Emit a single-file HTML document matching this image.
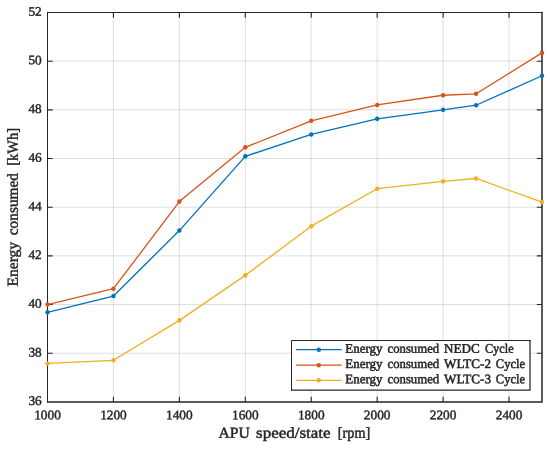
<!DOCTYPE html>
<html><head><meta charset="utf-8"><title>Energy consumed vs APU speed</title>
<style>html,body{margin:0;padding:0;background:#fff;}svg{display:block;}text{font-family:"Liberation Serif", serif;fill:#262626;stroke:#262626;stroke-width:0.45px;}</style></head><body>
<svg width="550" height="450" viewBox="0 0 550 450">
<rect x="0" y="0" width="550" height="450" fill="#ffffff"/>
<path d="M113.43 12.50V401.90M179.37 12.50V401.90M245.30 12.50V401.90M311.23 12.50V401.90M377.17 12.50V401.90M443.10 12.50V401.90M509.03 12.50V401.90" stroke="#262626" stroke-opacity="0.15" stroke-width="1" fill="none"/>
<path d="M47.50 353.22H542.00M47.50 304.55H542.00M47.50 255.88H542.00M47.50 207.20H542.00M47.50 158.52H542.00M47.50 109.85H542.00M47.50 61.18H542.00" stroke="#262626" stroke-opacity="0.15" stroke-width="1" fill="none"/>
<path d="M113.43 401.90v-5.20M113.43 12.50v5.20M179.37 401.90v-5.20M179.37 12.50v5.20M245.30 401.90v-5.20M245.30 12.50v5.20M311.23 401.90v-5.20M311.23 12.50v5.20M377.17 401.90v-5.20M377.17 12.50v5.20M443.10 401.90v-5.20M443.10 12.50v5.20M509.03 401.90v-5.20M509.03 12.50v5.20M47.50 353.22h5.20M542.00 353.22h-5.20M47.50 304.55h5.20M542.00 304.55h-5.20M47.50 255.88h5.20M542.00 255.88h-5.20M47.50 207.20h5.20M542.00 207.20h-5.20M47.50 158.52h5.20M542.00 158.52h-5.20M47.50 109.85h5.20M542.00 109.85h-5.20M47.50 61.18h5.20M542.00 61.18h-5.20" stroke="#262626" stroke-width="1.1" fill="none"/>
<path d="M47.50 402.60V12.00M47.00 12.50H542.70" stroke="#262626" stroke-width="1" fill="none"/>
<path d="M542.00 12.00V402.65M47.00 401.90H542.75" stroke="#262626" stroke-width="1.5" fill="none"/>
<polyline points="47.50,312.34 113.43,296.03 179.37,230.56 245.30,156.33 311.23,134.43 377.17,118.85 443.10,109.85 476.07,105.23 542.00,75.78" fill="none" stroke="#0072BD" stroke-width="1.3" stroke-linejoin="round"/>
<ellipse cx="47.50" cy="312.34" rx="2.2" ry="2.3" fill="#0072BD"/>
<ellipse cx="113.43" cy="296.03" rx="2.2" ry="2.3" fill="#0072BD"/>
<ellipse cx="179.37" cy="230.56" rx="2.2" ry="2.3" fill="#0072BD"/>
<ellipse cx="245.30" cy="156.33" rx="2.2" ry="2.3" fill="#0072BD"/>
<ellipse cx="311.23" cy="134.43" rx="2.2" ry="2.3" fill="#0072BD"/>
<ellipse cx="377.17" cy="118.85" rx="2.2" ry="2.3" fill="#0072BD"/>
<ellipse cx="443.10" cy="109.85" rx="2.2" ry="2.3" fill="#0072BD"/>
<ellipse cx="476.07" cy="105.23" rx="2.2" ry="2.3" fill="#0072BD"/>
<ellipse cx="542.00" cy="75.78" rx="2.2" ry="2.3" fill="#0072BD"/>
<polyline points="47.50,304.55 113.43,288.73 179.37,201.60 245.30,147.33 311.23,120.80 377.17,104.98 443.10,95.25 476.07,93.79 542.00,52.90" fill="none" stroke="#D95319" stroke-width="1.3" stroke-linejoin="round"/>
<ellipse cx="47.50" cy="304.55" rx="2.2" ry="2.3" fill="#D95319"/>
<ellipse cx="113.43" cy="288.73" rx="2.2" ry="2.3" fill="#D95319"/>
<ellipse cx="179.37" cy="201.60" rx="2.2" ry="2.3" fill="#D95319"/>
<ellipse cx="245.30" cy="147.33" rx="2.2" ry="2.3" fill="#D95319"/>
<ellipse cx="311.23" cy="120.80" rx="2.2" ry="2.3" fill="#D95319"/>
<ellipse cx="377.17" cy="104.98" rx="2.2" ry="2.3" fill="#D95319"/>
<ellipse cx="443.10" cy="95.25" rx="2.2" ry="2.3" fill="#D95319"/>
<ellipse cx="476.07" cy="93.79" rx="2.2" ry="2.3" fill="#D95319"/>
<ellipse cx="542.00" cy="52.90" rx="2.2" ry="2.3" fill="#D95319"/>
<polyline points="47.50,363.45 113.43,360.28 179.37,320.37 245.30,275.34 311.23,226.18 377.17,188.70 443.10,181.40 476.07,178.48 542.00,202.09" fill="none" stroke="#EDB120" stroke-width="1.3" stroke-linejoin="round"/>
<ellipse cx="47.50" cy="363.45" rx="2.2" ry="2.3" fill="#EDB120"/>
<ellipse cx="113.43" cy="360.28" rx="2.2" ry="2.3" fill="#EDB120"/>
<ellipse cx="179.37" cy="320.37" rx="2.2" ry="2.3" fill="#EDB120"/>
<ellipse cx="245.30" cy="275.34" rx="2.2" ry="2.3" fill="#EDB120"/>
<ellipse cx="311.23" cy="226.18" rx="2.2" ry="2.3" fill="#EDB120"/>
<ellipse cx="377.17" cy="188.70" rx="2.2" ry="2.3" fill="#EDB120"/>
<ellipse cx="443.10" cy="181.40" rx="2.2" ry="2.3" fill="#EDB120"/>
<ellipse cx="476.07" cy="178.48" rx="2.2" ry="2.3" fill="#EDB120"/>
<ellipse cx="542.00" cy="202.09" rx="2.2" ry="2.3" fill="#EDB120"/>
<text transform="translate(47.50 419.30) rotate(0.03) scale(1 1.0000)" font-size="13.1" text-anchor="middle" textLength="26.6" lengthAdjust="spacingAndGlyphs" stroke-width="0.35">1000</text>
<text transform="translate(113.43 419.30) rotate(0.03) scale(1 1.0000)" font-size="13.1" text-anchor="middle" textLength="26.6" lengthAdjust="spacingAndGlyphs" stroke-width="0.35">1200</text>
<text transform="translate(179.37 419.30) rotate(0.03) scale(1 1.0000)" font-size="13.1" text-anchor="middle" textLength="26.6" lengthAdjust="spacingAndGlyphs" stroke-width="0.35">1400</text>
<text transform="translate(245.30 419.30) rotate(0.03) scale(1 1.0000)" font-size="13.1" text-anchor="middle" textLength="26.6" lengthAdjust="spacingAndGlyphs" stroke-width="0.35">1600</text>
<text transform="translate(311.23 419.30) rotate(0.03) scale(1 1.0000)" font-size="13.1" text-anchor="middle" textLength="26.6" lengthAdjust="spacingAndGlyphs" stroke-width="0.35">1800</text>
<text transform="translate(377.17 419.30) rotate(0.03) scale(1 1.0000)" font-size="13.1" text-anchor="middle" textLength="26.6" lengthAdjust="spacingAndGlyphs" stroke-width="0.35">2000</text>
<text transform="translate(443.10 419.30) rotate(0.03) scale(1 1.0000)" font-size="13.1" text-anchor="middle" textLength="26.6" lengthAdjust="spacingAndGlyphs" stroke-width="0.35">2200</text>
<text transform="translate(509.03 419.30) rotate(0.03) scale(1 1.0000)" font-size="13.1" text-anchor="middle" textLength="26.6" lengthAdjust="spacingAndGlyphs" stroke-width="0.35">2400</text>
<text transform="translate(41.70 405.10) rotate(0.03) scale(1 1.0000)" font-size="13.1" text-anchor="end" textLength="13.3" lengthAdjust="spacingAndGlyphs" stroke-width="0.35">36</text>
<text transform="translate(41.70 356.42) rotate(0.03) scale(1 1.0000)" font-size="13.1" text-anchor="end" textLength="13.3" lengthAdjust="spacingAndGlyphs" stroke-width="0.35">38</text>
<text transform="translate(41.70 307.75) rotate(0.03) scale(1 1.0000)" font-size="13.1" text-anchor="end" textLength="13.3" lengthAdjust="spacingAndGlyphs" stroke-width="0.35">40</text>
<text transform="translate(41.70 259.07) rotate(0.03) scale(1 1.0000)" font-size="13.1" text-anchor="end" textLength="13.3" lengthAdjust="spacingAndGlyphs" stroke-width="0.35">42</text>
<text transform="translate(41.70 210.40) rotate(0.03) scale(1 1.0000)" font-size="13.1" text-anchor="end" textLength="13.3" lengthAdjust="spacingAndGlyphs" stroke-width="0.35">44</text>
<text transform="translate(41.70 161.72) rotate(0.03) scale(1 1.0000)" font-size="13.1" text-anchor="end" textLength="13.3" lengthAdjust="spacingAndGlyphs" stroke-width="0.35">46</text>
<text transform="translate(41.70 113.05) rotate(0.03) scale(1 1.0000)" font-size="13.1" text-anchor="end" textLength="13.3" lengthAdjust="spacingAndGlyphs" stroke-width="0.35">48</text>
<text transform="translate(41.70 64.38) rotate(0.03) scale(1 1.0000)" font-size="13.1" text-anchor="end" textLength="13.3" lengthAdjust="spacingAndGlyphs" stroke-width="0.35">50</text>
<text transform="translate(41.70 15.70) rotate(0.03) scale(1 1.0000)" font-size="13.1" text-anchor="end" textLength="13.3" lengthAdjust="spacingAndGlyphs" stroke-width="0.35">52</text>
<text transform="translate(218.50 437.70) rotate(0.03) scale(1 1.0400)" font-size="14.67" textLength="31.3" lengthAdjust="spacingAndGlyphs" stroke-width="0.3">APU</text>
<text transform="translate(256.10 437.70) rotate(0.03) scale(1 1.0400)" font-size="14.67" textLength="74.5" lengthAdjust="spacingAndGlyphs" stroke-width="0.3">speed/state</text>
<text transform="translate(337.80 437.70) rotate(0.03) scale(1 1.0400)" font-size="14.67" textLength="32.4" lengthAdjust="spacingAndGlyphs" stroke-width="0.3">[rpm]</text>
<text transform="translate(17.70 286.40) rotate(-90.03) scale(1 1.0400)" font-size="14.67" textLength="44.4" lengthAdjust="spacingAndGlyphs" stroke-width="0.3">Energy</text>
<text transform="translate(17.70 235.20) rotate(-90.03) scale(1 1.0400)" font-size="14.67" textLength="62.2" lengthAdjust="spacingAndGlyphs" stroke-width="0.3">consumed</text>
<text transform="translate(17.70 165.80) rotate(-90.03) scale(1 1.0400)" font-size="14.67" textLength="37.8" lengthAdjust="spacingAndGlyphs" stroke-width="0.3">[kWh]</text>
<rect x="291.5" y="340.5" width="238.5" height="49.5" fill="#ffffff"/>
<path d="M291.5 390.6V340.5H530.6" stroke="#262626" stroke-width="1" fill="none"/>
<path d="M530 340V390H291" stroke="#262626" stroke-width="1.25" fill="none" stroke-linejoin="miter"/>
<path d="M296 349.70H341.7" stroke="#0072BD" stroke-width="1.3" fill="none"/>
<ellipse cx="318.8" cy="349.70" rx="2.2" ry="2.3" fill="#0072BD"/>
<text transform="translate(345.20 352.80) rotate(0.03) scale(1 1.0900)" font-size="12" textLength="37.4" lengthAdjust="spacingAndGlyphs" stroke-width="0.45">Energy</text>
<text transform="translate(387.50 352.80) rotate(0.03) scale(1 1.0900)" font-size="12" textLength="51.7" lengthAdjust="spacingAndGlyphs" stroke-width="0.45">consumed</text>
<text transform="translate(444.00 352.80) rotate(0.03) scale(1 1.0900)" font-size="12" textLength="35.6" lengthAdjust="spacingAndGlyphs" stroke-width="0.45">NEDC</text>
<text transform="translate(484.90 352.80) rotate(0.03) scale(1 1.0900)" font-size="12" textLength="28.7" lengthAdjust="spacingAndGlyphs" stroke-width="0.45">Cycle</text>
<path d="M296 365.20H341.7" stroke="#D95319" stroke-width="1.3" fill="none"/>
<ellipse cx="318.8" cy="365.20" rx="2.2" ry="2.3" fill="#D95319"/>
<text transform="translate(345.20 367.90) rotate(0.03) scale(1 1.0900)" font-size="12" textLength="37.4" lengthAdjust="spacingAndGlyphs" stroke-width="0.45">Energy</text>
<text transform="translate(387.50 367.90) rotate(0.03) scale(1 1.0900)" font-size="12" textLength="51.7" lengthAdjust="spacingAndGlyphs" stroke-width="0.45">consumed</text>
<text transform="translate(444.00 367.90) rotate(0.03) scale(1 1.0900)" font-size="12" textLength="47.0" lengthAdjust="spacingAndGlyphs" stroke-width="0.45">WLTC-2</text>
<text transform="translate(495.80 367.90) rotate(0.03) scale(1 1.0900)" font-size="12" textLength="29.2" lengthAdjust="spacingAndGlyphs" stroke-width="0.45">Cycle</text>
<path d="M296 380.30H341.7" stroke="#EDB120" stroke-width="1.3" fill="none"/>
<ellipse cx="318.8" cy="380.30" rx="2.2" ry="2.3" fill="#EDB120"/>
<text transform="translate(345.20 383.25) rotate(0.03) scale(1 1.0900)" font-size="12" textLength="37.4" lengthAdjust="spacingAndGlyphs" stroke-width="0.45">Energy</text>
<text transform="translate(387.50 383.25) rotate(0.03) scale(1 1.0900)" font-size="12" textLength="51.7" lengthAdjust="spacingAndGlyphs" stroke-width="0.45">consumed</text>
<text transform="translate(444.00 383.25) rotate(0.03) scale(1 1.0900)" font-size="12" textLength="47.0" lengthAdjust="spacingAndGlyphs" stroke-width="0.45">WLTC-3</text>
<text transform="translate(495.80 383.25) rotate(0.03) scale(1 1.0900)" font-size="12" textLength="29.2" lengthAdjust="spacingAndGlyphs" stroke-width="0.45">Cycle</text>
</svg></body></html>
